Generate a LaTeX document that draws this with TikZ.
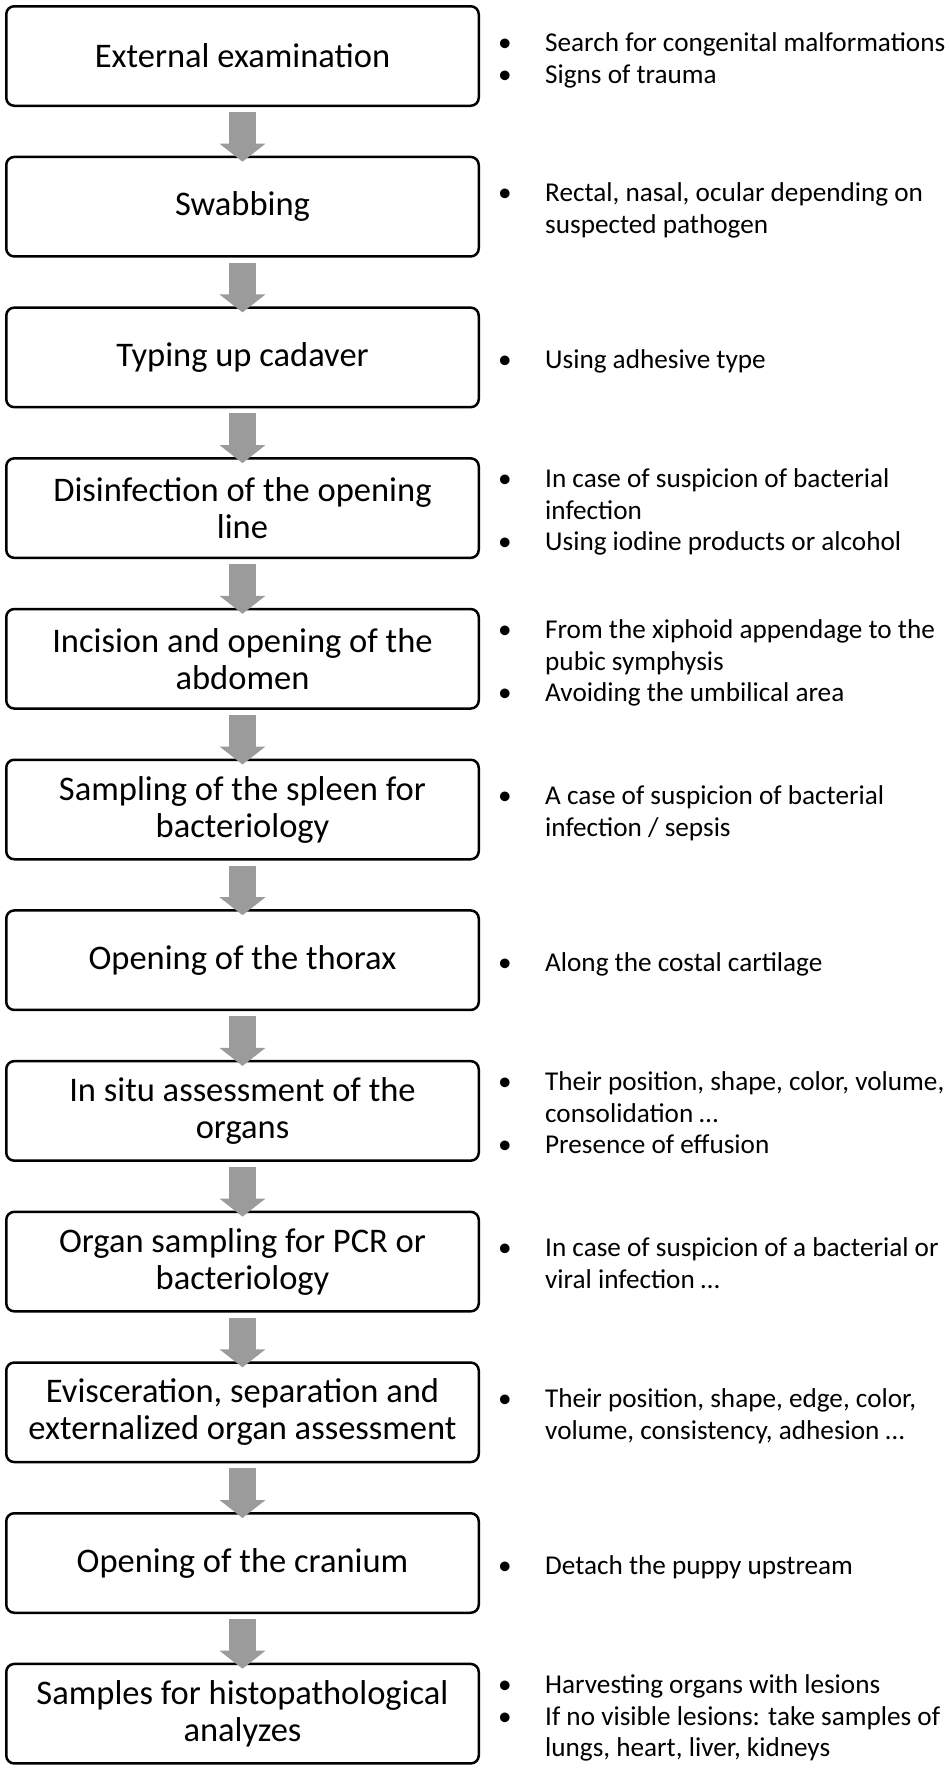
\documentclass[tikz,border=0pt]{standalone}
\usepackage{fontspec}
\setmainfont{Carlito}
\usetikzlibrary{arrows.meta}
\definecolor{arrowgray}{RGB}{155,155,155}
\newcommand{\boxfont}{\fontsize{34.5}{37}\selectfont}
\newcommand{\notefont}{\fontsize{27.2}{31.5}\selectfont}
\newcommand{\bl}{\makebox[46pt][l]{\hspace*{-1pt}\textbullet}}
\tikzset{
  stepbox/.style={draw=black, line width=2.5pt, rounded corners=8pt,
    minimum width=472.5pt, minimum height=99.5pt, align=center,
    font=\boxfont, inner sep=0pt},
  note/.style={anchor=west, inner sep=0pt, font=\notefont},
  flowarrow/.style={draw=arrowgray, line width=27pt,
    -{Triangle[width=45pt,length=18pt]}}
}
\newcommand{\notelist}[1]{\begin{tabular}{@{}l@{}l@{}}#1\end{tabular}}
\begin{document}
\begin{tikzpicture}
\useasboundingbox (0,0) rectangle (950pt,-1770pt);
\fill[white] (0,0) rectangle (950pt,-1770pt);

\node[stepbox] (b1) at (242.5pt,-56pt) {External examination};
\node[stepbox] (b2) at (242.5pt,-206.7pt) {Swabbing};
\node[stepbox] (b3) at (242.5pt,-357.4pt) {Typing up cadaver};
\node[stepbox] (b4) at (242.5pt,-508.1pt) {Disinfection of the opening\\line};
\node[stepbox] (b5) at (242.5pt,-658.8pt) {Incision and opening of the\\abdomen};
\node[stepbox] (b6) at (242.5pt,-809.5pt) {Sampling of the spleen for\\bacteriology};
\node[stepbox] (b7) at (242.5pt,-960.2pt) {Opening of the thorax};
\node[stepbox] (b8) at (242.5pt,-1110.9pt) {In situ assessment of the\\organs};
\node[stepbox] (b9) at (242.5pt,-1261.6pt) {Organ sampling for PCR or\\bacteriology};
\node[stepbox] (b10) at (242.5pt,-1412.3pt) {Evisceration, separation and\\externalized organ assessment};
\node[stepbox] (b11) at (242.5pt,-1563pt) {Opening of the cranium};
\node[stepbox] (b12) at (242.5pt,-1713.7pt) {Samples for histopathological\\analyzes};

\node[note] (n1) at (499pt,-61pt) {\notelist{\bl & Search for congenital malformations\\ \bl & Signs of trauma}};
\node[note] (n2) at (499pt,-211pt) {\notelist{\bl & Rectal, nasal, ocular depending on\\ & suspected pathogen}};
\node[note] (n3) at (499pt,-362pt) {\notelist{\bl & Using adhesive type}};
\node[note] (n4) at (499pt,-513pt) {\notelist{\bl & In case of suspicion of bacterial\\ & infection\\ \bl & Using iodine products or alcohol}};
\node[note] (n5) at (499pt,-664pt) {\notelist{\bl & From the xiphoid appendage to the\\ & pubic symphysis\\ \bl & Avoiding the umbilical area}};
\node[note] (n6) at (499pt,-814pt) {\notelist{\bl & A case of suspicion of bacterial\\ & infection / sepsis}};
\node[note] (n7) at (499pt,-965pt) {\notelist{\bl & Along the costal cartilage}};
\node[note] (n8) at (499pt,-1116pt) {\notelist{\bl & Their position, shape, color, volume,\\ & consolidation …\\ \bl & Presence of effusion}};
\node[note] (n9) at (499pt,-1266pt) {\notelist{\bl & In case of suspicion of a bacterial or\\ & viral infection …}};
\node[note] (n10) at (499pt,-1417pt) {\notelist{\bl & Their position, shape, edge, color,\\ & volume, consistency, adhesion …}};
\node[note] (n11) at (499pt,-1568pt) {\notelist{\bl & Detach the puppy upstream}};
\node[note] (n12) at (499pt,-1719pt) {\notelist{\bl & Harvesting organs with lesions\\ \bl & If no visible lesions: take samples of\\ & lungs, heart, liver, kidneys}};

\foreach \a/\b in {b1/b2,b2/b3,b3/b4,b4/b5,b5/b6,b6/b7,b7/b8,b8/b9,b9/b10,b10/b11,b11/b12}
  \draw[flowarrow] ([yshift=-5pt]\a.south) -- ([yshift=-6pt]\b.north);
\end{tikzpicture}
\end{document}
